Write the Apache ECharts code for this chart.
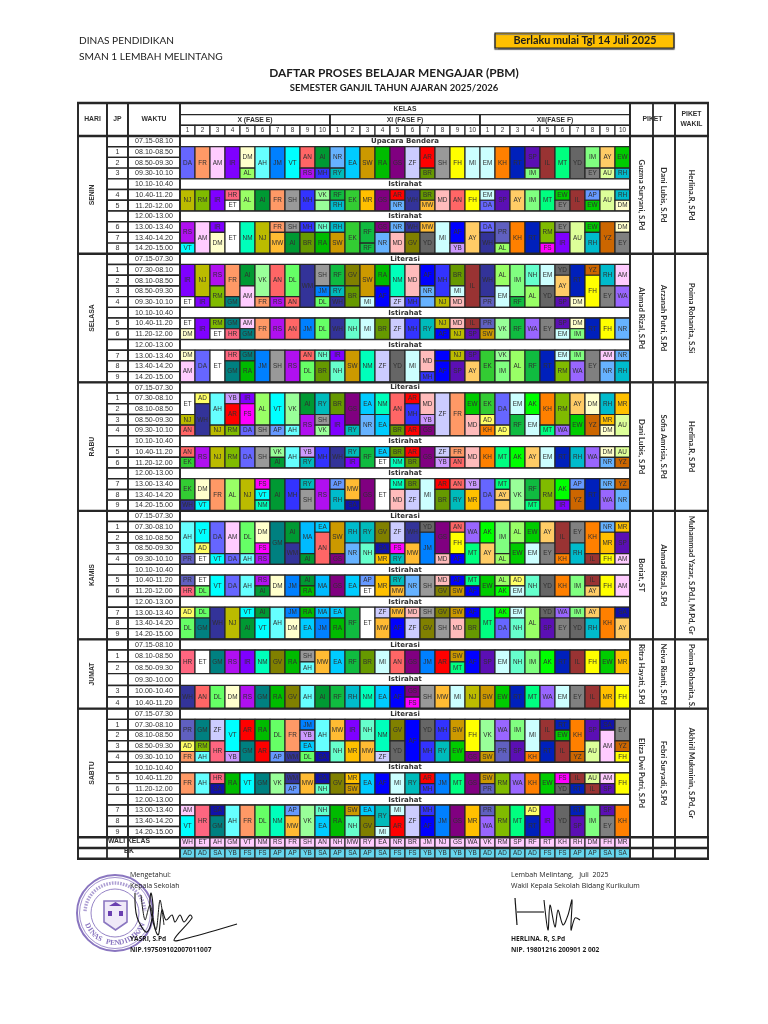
<!DOCTYPE html>
<html><head><meta charset="utf-8">
<style>html,body{margin:0;padding:0;background:#fff}#c{width:768px;height:1024px}</style>
<script src="https://cdn.jsdelivr.net/npm/echarts@6/dist/echarts.min.js"></script>
</head><body><div id="c"></div>
<script>
const days = ["SENIN","SELASA","RABU","KAMIS","JUMAT","SABTU"];
const classNumbers = ["1","2","3","4","5","6","7","8","9","10"];
const phases = ["X (FASE E)","XI (FASE F)","XII(FASE F)"];
const jpSix = ["","1","2","3","4","","5","6","","7","8","9"];
const jpSenin = ["","1","2","3","","4","5","","6","7","8"];
const jpJumat = ["","1","2","","3","4"];
const waktuSenin = ["07.15-08.10","08.10-08.50","08.50-09.30","09.30-10.10","10.10-10.40","10.40-11.20","11.20-12.00","12.00-13.00","13.00-13.40","13.40-14.20","14.20-15.00"];
const waktuFull = ["07.15-07.30","07.30-08.10","08.10-08.50","08.50-09.30","09.30-10.10","10.10-10.40","10.40-11.20","11.20-12.00","12.00-13.00","13.00-13.40","13.40-14.20","14.20-15.00"];
const waktuJumat = ["07.15-08.10","08.10-08.50","08.50-09.30","09.30-10.00","10.00-10.40","10.40-11.20"];
const breaksSenin = ["Upacara Bendera","Istirahat","Istirahat"];
const breaksFull = ["Literasi","Istirahat","Istirahat"];
const breaksJumat = ["Literasi","Istirahat"];
const piket1 = ["Guzma Suryani, S.Pd","Ahmad Rizal, S.Pd","Dani Lubis, S.Pd","Boriat, ST","Ritra Hayati, S.Pd","Eliza Dwi Putri, S.Pd"];
const piket2 = ["Dani Lubis, S.Pd","Arzanah Putri, S.Pd","Sofia Amrisia, S.Pd","Ahmad Rizal, S.Pd","Neiva Rianti, S.Pd","Febri Suryadi, S.Pd"];
const piketWakil = ["Herlina.R, S.Pd","Poima Rohanita, S.Si","Herlina.R, S.Pd","Muhammad Yazar, S.Pd.I, M.Pd, Gr","Poima Rohanita, S.Si","Akhiril Mukminin, S.Pd, Gr"];

// One string per class: teacher code + number of lesson periods
const seninA = ["DA3","FR3","AM3","IR3","DM2 AL1","AH3","JM3","VT3","AN2 RS1","AI2 MH1","NR2 RY1","EA3","SW3","RA3","GS3","ZF3","AR2 BR1","SH3","FH3","MI3","EM3","KH3","RT3","SP2 IM1","IL3","MT3","YD3","IM2 EY1","AY2 AU1","EW2 RH1"];
const seninB = ["NJ2","RM2","IR2","HR1 ET1","AL2","AI2","FR2","SH2","MH2","VK1 _VK1","RF1 RH1","EK2","MR2","GS2","AR1 NR1","WH2","BR1 MW1","MD2","AN2","FH2","EM1 DA1","SP2","AY2","IM2","MT2","EW1 EY1","IL2","AP1 EW1","AU2","RH1 DM1"];
const seninC = ["RS2 VT1","AM3","IR1 DM2","ET3","NM3","NJ3","FR1 MW2","SH1 AI2","MH1 BR2","NH1 RA2","RH1 SW2","EK3","RF2 RF1","GS1 NR2","NR1 MD2","WH1 GV2","MW1 YD2","MI3","AF2 YB1","AY3","DA1 WH2","PR2 AL1","KH3","RT3","RM2 FS1","EY1 IR2","AU3","EW1 RH2","YZ3","DM1 EY2"];
const selasaA = ["IR3 ET1","NJ3 IR1","RS2 RM2","FR3 GM1","AI2 AM2","VK3 FR1","AN3 RS1","DL3 AN1","WM4","SH2 JM1 DL1","RF2 RY1 WH1","GV2 BR2","SW3 MI1","RA2 AF2","NM3 ZF1","MD3 MH1","AF2 NR1 _NR1","MH3 NJ1","BR2 MI1 MD1","IL4","WH3 PR1","AL2 EM2","IM3 RF1","NH2 AL2","EM2 YD2","YD1 AY2 SP1","RT3 DM1","YZ1 FH3","RH2 EY2","AM2 WA2"];
const selasaB = ["ET1 DM1","IR2","RM1 ET1","GM1 HR1","AM1 GM1","FR2","RS2","AN2","JM2","DL2","WH2","NH2","MI2","BR2","ZF2","MH2","RY2","NJ1 AF1","MD1 NJ1","IL1 SP1","PR1 SW1","VK2","RF2","WA2","EY2","SP1 EM1","DM1 IM1","RT2","FH2","NR2"];
const selasaC = ["DM1 AM2","DA3","ET3","HR1 GM2","GM1 RA2","JM3","SH3","RS3","AN1 DL2","NH1 BR2","IR1 NH2","SW3","NM3","ZF3","YD3","MI3","MD2 MH1","_AF1 AF2","NJ1 SP2","SP1 AY2","EK3","VK1 IM2","AL3","RF3","RT3","EM1 RM2","IM1 WA2","EY3","AM1 NR2","NR1 RH2"];
const rabuA = ["ET2 NJ1 AN1","AD1 WH3","AH3 NJ1","YB1 AR2 RM1","IR1 FS2 DA1","AL3 SH1","VT3 AP1","VK3 AH1","AI2 RS2","RY2 SH1 VK1","BR2 IR2","GS3 RY1","EA2 NR2","NM2 EA2","AN3 BR1","AR1 MH2 AR1","MD2 YB1 GS1","ZF4","FR4","EW2 MD2","EK2 AD1 KH1","DA3 AD1","EM2 RF2","AK2 EM2","KH3 MT1","RM3 WA1","AY2 EW2","DM2 YZ2","RH2 MR1 DM1","MR2 AU2"];
const rabuB = ["AN1 EK1","RS2","NJ2","RM2","DA2","SH2","VK1 AI1","AH2","YB1 RY1","MH2","WH2","RY1 IR1","RF2","EA1 ET1","BR1 NM1","AR1 BR1","GS2","ZF1 YB1","FR1 AN1","MD2","KH2","MT2","AK2","AY2","EM2","RT2","RH2","WA2","DM1 NR1","AU1 YZ1"];
const rabuC = ["EK2 WH1","DM2 VT1","FR3","AL3","NJ3","FS1 VT1 NM1","AI3","MH3","RY1 SH2","RS3","AP1 RH2","MW2 SA1","GS3","ET3","NM1 MD2","BR1 ZF2","MI3","AR1 BR2","AN1 RY2","YB1 MR2","DA3","MT1 AY1 _AY1","VK3","RF2 MT1","RM3","AK2 IR1","AP1 YZ2","RT3","NR1 WA2","YZ1 NR2"];
const kamisA = ["AH3 PR1","VT2 AD1 ET1","DA3 VT1","AM3 DA1","DL3 AH1","DM2 FS1 RS1","GM4","AI2 WM2","MA3 AI1","EA1 AN3","SW3 GS1","RH2 NR2","RY2 NH2","GV2 SA1 MR1","ZF2 FS1 RY1","WH2 MW2","YD1 JM3","GS3 MD1","AN1 FH2 AF1","WA2 MT2","AK2 AY2","IM3 AL1","AL2 EW2","EW2 EM2","AY2 EY2","IL3 KH1","EY2 RH2","KH3 IL1","NR1 MR2 FH1","MR1 SP2 AM1"];
const kamisB = ["PR1 HR1","ET1 DL1","VT2","DA2","AH2","RS1 AI1","DM2","JM2","AI1 RA1","MA2","GS2","EA2","AP1 ET1","MR2","RY1 MW1","NR2","SH2","MD1 GV1","AF1 SW1","MT1 AF1","EW2","AL1 AK1","AD1 EM1","NH2","YD2","KH2","IM2","IL1 AY1","FH2","AM2"];
const kamisC = ["AD1 DL2","DL1 GM2","WH3","NJ3","VT1 AI2","AI1 VT2","AH3","JM1 DM2","RA1 EA2","MA1 JM2","EA1 RA2","RF3","ET3","ZF1 MW2","MW1 AF2","MD1 ZF2","SH1 GV2","GV1 SH2","SW1 MD2","AF1 BR2","MT3","AK1 DA2","EM1 NH2","AL3","YD1 SP2","WA1 EY2","IM1 YD2","AY1 RH2","KH3","SA1 AY2"];
const jumatA = ["HR2","ET2","GM2","RS2","IR2","NM2","GV2","RA2","SH1 AH1","MW2","EA2","RF2","BR2","MI2","AN2","GS2","JM2","AR2","SW1 MT1","AF2","SP2","EM2","NH2","IM2","AK2","RT2","IL2","FH2","EW2","MR2"];
const jumatB = ["WH2","AN2","DL2","DM2","RS2","GM2","RA2","GV2","AH2","AI2","RF2","RH2","NM2","EA2","AF2","GS1 FS1","SH2","MW2","MI2","NJ2","SW2","EW2","RT2","MT2","WA2","EM2","EY2","IL2","MR2","FH2"];
const sabtuA = ["PR2 AD1 FR1","GM2 RM1 AH1","ZF2 HR2","VT3 YB1","AR2 GM2","RA2 AR2","DL3 AP1","FR3 WM1","JM1 YB1 EA1 DL1","AH3 SA1","MW2 NH2","IR2 MR2","NH2 MW2","NM3 ZF1","GV2 YD2","AF4","YD2 MH2","MH2 RY2","SW2 EW2","FH3 GS1","VK3 SW1","WA2 PR2","IM2 SP2","MI3 KH1","IL2 RT2","RT1 EW1 IL2","KH3 YZ1","SP2 AU2","SA1 AM3","EY2 YZ1 FH1"];
const sabtuB = ["FR2","AH2","HR1 SA1","RA2","VT2","GM2","VK2","WM1 AP1","MW2","SA1 NH1","GV2","MR1 SW1","EA2","AF2","MI2","RY2","AR1 MH1","JM2","MT2","GS2","SW1 PR1","RM2","WA2","KH2","EW2","FS1 YD1","IL1 RT1","AU1 IL1","AM1 SP1","FH2"];
const sabtuC = ["AM1 VT2","HR3","SA1 GM2","AH3","FR3","DL3","NM3","AP1 MW2","VK3","NH1 EA2","RA3","SW1 NH2","EA1 GV2","RY2 MI1","MI1 AR2","ZF3","MH1 AF2","JM3","GS3","MR3","PR1 WA2","RM3","MT3","AD1 RT2","IR3","YD3","RT1 SP2","IM3","SP1 EY2","KH3"];
const waliKelas = ["WH","ET","AH","GM","VT","NM","RS","FR","SH","AN","NH","MW","RY","EA","NR","BR","JM","NJ","GS","WA","VK","RM","SP","RF","RT","KH","RH","DM","FH","MR"];
const bk = ["AD","AD","SA","YB","FS","FS","AP","AP","YB","SA","AP","SA","AP","SA","FS","FS","YB","YB","YB","YB","AD","AD","AD","AD","FS","FS","AP","AP","SA","SA"];
const teacherColors = {DA:"#6666FF",FR:"#FF9966",AM:"#FFCCFF",IR:"#7F00FF",DM:"#FFFFCC",AL:"#99FF66",AH:"#66FFFF",JM:"#0080FF",VT:"#00FFFF",AN:"#FF6666",RS:"#B010F0",AI:"#009933",MH:"#3333FF",NR:"#66B2FF",RY:"#00BBBB",EA:"#00CCFF",SW:"#CC9900",RA:"#00BB00",GS:"#800080",ZF:"#CCCCFF",AR:"#FF0000",BR:"#669900",SH:"#999999",FH:"#FFFF00",MI:"#CCFFFF",EM:"#CCFFFF",KH:"#FF8000",RT:"#0020BB",SP:"#5B0FB4",IM:"#80FF80",IL:"#993333",MT:"#00FF80",YD:"#666666",EY:"#808080",AY:"#FFCC66",AU:"#DDFF99",EW:"#00CC00",RH:"#00BBCC",NJ:"#BBBB00",RM:"#80BB00",HR:"#FF6680",ET:"#FFFFFF",VK:"#99FF99",NM:"#00FFBB",FS:"#FF00FF",WH:"#333399",PR:"#6060C0",MW:"#FFBB33",AF:"#0000FF",MD:"#FFBBBB",EK:"#33CC33",RF:"#10BB40",GV:"#808000",NH:"#66FFCC",DL:"#66FF66",GM:"#008080",WA:"#9966FF",AK:"#00FF00",YZ:"#CC6600",MR:"#FFC000",AP:"#6699FF",AD:"#FFFF66",YB:"#CC99FF",WM:"#333399",MA:"#00BBFF",SA:"#1111AA"};

const dayTables = [
 {jp:jpSenin,waktu:waktuSenin,breaks:breaksSenin,segs:[seninA,seninB,seninC]},
 {jp:jpSix,waktu:waktuFull,breaks:breaksFull,segs:[selasaA,selasaB,selasaC]},
 {jp:jpSix,waktu:waktuFull,breaks:breaksFull,segs:[rabuA,rabuB,rabuC]},
 {jp:jpSix,waktu:waktuFull,breaks:breaksFull,segs:[kamisA,kamisB,kamisC]},
 {jp:jpJumat,waktu:waktuJumat,breaks:breaksJumat,segs:[jumatA,jumatB]},
 {jp:jpSix,waktu:waktuFull,breaks:breaksFull,segs:[sabtuA,sabtuB,sabtuC]}
];

// ---- layout (page pixels) ----
const U = px => (px - 180) / 15;          // page x -> class-column units
const edges = {hari:78, jp:107, waktu:128, kelas:180, kelasEnd:630, p1:653, p2:675, end:708};
const jumatHeights = [10.7,11.8,11.8,11.8,11.6,11.6];
const pitch = 10.71, rowsTop = 136;
const line = "#262626", inkCell = "#303030", ink = "#303030";
const fSmall = "6.4px 'Liberation Sans'", fHead = "bold 6.8px 'Liberation Sans'", fTime = "7.1px 'Liberation Sans'";
const fBreak = "bold 7px 'DejaVu Sans'", fName = "bold 7.8px Lato";

const boxes = [];
function box(x0,x1,y0,y1,o){boxes.push(Object.assign({x0:U(x0),x1:U(x1),y0,y1,fill:"#fff",stroke:line,lw:1.4,font:fHead,color:ink,rot:0,text:""},o||{}));}
function cell(col,y0,y1,text,fill){boxes.push({x0:col,x1:col+1,y0,y1,fill,stroke:line,lw:1.15,font:fSmall,color:inkCell,rot:0,text});}

// header
box(edges.hari,edges.jp,103,rowsTop,{text:"HARI"});
box(edges.jp,edges.waktu,103,rowsTop,{text:"JP"});
box(edges.waktu,edges.kelas,103,rowsTop,{text:"WAKTU"});
box(edges.kelas,edges.kelasEnd,103,114.6,{text:"KELAS"});
phases.forEach((p,i)=>{
  box(180+150*i,330+150*i,114.6,125.3,{text:p});
  classNumbers.forEach((n,j)=>cell(10*i+j,125.3,rowsTop,n,"#fff"));
});
box(edges.kelasEnd,edges.p2,103,rowsTop,{text:"PIKET"});
box(edges.p2,edges.end,103,rowsTop,{text:"PIKET\nWAKIL",lineHeight:10});

// day blocks
let y = rowsTop;
const dayEdges = [y];
dayTables.forEach((d,di)=>{
  const top = y;
  let segIdx = 0, brkIdx = 0, r = 0;
  const h = i => di===4 ? jumatHeights[i] : pitch;
  while (r < d.jp.length) {
    if (d.jp[r] === "") {
      box(edges.jp,edges.waktu,y,y+h(r));
      box(edges.waktu,edges.kelas,y,y+h(r),{text:d.waktu[r],font:fTime});
      box(edges.kelas,edges.kelasEnd,y,y+h(r),{text:d.breaks[brkIdx++],font:fBreak});
      y += h(r); r++;
    } else {
      const start = r, startY = y;
      while (r < d.jp.length && d.jp[r] !== "") {
        box(edges.jp,edges.waktu,y,y+h(r),{text:d.jp[r],font:fTime});
        box(edges.waktu,edges.kelas,y,y+h(r),{text:d.waktu[r],font:fTime});
        y += h(r); r++;
      }
      const seg = d.segs[segIdx++];
      seg.forEach((s,ci)=>{
        let cr = start;
        s.split(" ").forEach(tok=>{
          const m = tok.match(/^(_?)([A-Z]+)(\d)$/);
          const n = +m[3];
          let ya = startY; for(let k=start;k<cr;k++) ya += h(k);
          let yb = ya; for(let k=cr;k<cr+n;k++) yb += h(k);
          cell(ci,ya,yb,m[1]?"":m[2],teacherColors[m[2]]);
          cr += n;
        });
      });
    }
  }
  box(edges.hari,edges.jp,top,y,{text:days[di],rot:Math.PI/2});
  box(edges.kelasEnd,edges.p1,top,y,{text:piket1[di],rot:-Math.PI/2,font:fName});
  box(edges.p1,edges.p2,top,y,{text:piket2[di],rot:-Math.PI/2,font:fName});
  box(edges.p2,edges.end,top,y,{text:piketWakil[di],rot:-Math.PI/2,font:fName,clip:true,dy:di===4?5:0});
  dayEdges.push(y);
});
// wali kelas & BK rows
const wy0 = y, wy1 = y + 10.8, wy2 = wy1 + 10.8;
box(edges.hari,edges.kelas,wy0,wy1,{text:"WALI KELAS",dy:-1});
box(edges.hari,edges.kelas,wy1,wy2,{text:"BK",dy:-2});
waliKelas.forEach((t,i)=>cell(i,wy0,wy1,t,"#FFCCFF"));
bk.forEach((t,i)=>cell(i,wy1,wy2,t,"#66D6EE"));
[[edges.kelasEnd,edges.p1],[edges.p1,edges.p2],[edges.p2,edges.end]].forEach(([a,b])=>{box(a,b,wy0,wy1);box(a,b,wy1,wy2);});
// heavy rules
const rule=(x0,x1,y0,y1)=>boxes.push({x0:U(x0),x1:U(x1),y0,y1,fill:line,stroke:null,lw:0,text:""});
[103,...dayEdges,wy1,wy2].forEach(v=>rule(edges.hari-1,edges.end+1,v-1.2,v+1.2));
[edges.hari,edges.jp,edges.waktu,edges.kelas,edges.kelasEnd,edges.p1,edges.p2,edges.end].forEach(v=>rule(v-0.9,v+0.9,103,wy2));
[330,480].forEach(v=>rule(v-0.7,v+0.7,114.6,rowsTop));

function renderItem(params, api){
  const b = boxes[params.dataIndex];
  const a = api.coord([b.x0,b.y0]), c = api.coord([b.x1,b.y1]);
  const kids = [{type:"rect",silent:true,shape:{x:a[0],y:a[1],width:c[0]-a[0],height:c[1]-a[1]},style:{fill:b.fill,stroke:b.stroke,lineWidth:b.lw}}];
  if (b.text) kids.push({type:"text",silent:true,x:(a[0]+c[0])/2,y:(a[1]+c[1])/2+(b.dy||0),rotation:b.rot,z2:5,
    style:{text:b.text,fill:b.color,font:b.font,align:"center",verticalAlign:"middle",lineHeight:b.lineHeight}});
  const g = {type:"group",children:kids};
  if (b.clip) g.clipPath = {type:"rect",shape:{x:a[0],y:a[1],width:c[0]-a[0],height:c[1]-a[1]}};
  return g;
}

// ---- page furniture ----
const G = [];
const T=(text,x,y,font,o)=>G.push(Object.assign({type:"text",x,y,z:20,silent:true,style:Object.assign({text,font,fill:"#1c1c1c",align:"left",verticalAlign:"middle"},o||{})}));
T("DINAS PENDIDIKAN",79,41,"10.1px Lato");
T("SMAN 1 LEMBAH MELINTANG",79,57,"10.2px Lato");
G.push({type:"rect",z:19,shape:{x:495,y:33,width:179,height:15},style:{fill:"#FFC000",stroke:"#222",lineWidth:1.2,shadowColor:"#777",shadowOffsetY:1.5,shadowBlur:1}});
T("Berlaku mulai Tgl 14 Juli 2025",585,40.8,"bold 10.8px Lato",{align:"center"});
T("DAFTAR PROSES BELAJAR MENGAJAR (PBM)",394,73,"bold 11.9px Lato",{align:"center"});
T("SEMESTER GANJIL TAHUN AJARAN 2025/2026",394,88,"bold 9.5px Lato",{align:"center"});
// stamp
const purple="#8a76c0";
G.push({type:"circle",z:18,shape:{cx:115,cy:913,r:38},style:{fill:"none",stroke:purple,lineWidth:2}});
G.push({type:"circle",z:18,shape:{cx:115,cy:913,r:35.5},style:{fill:"none",stroke:purple,lineWidth:0.8}});
G.push({type:"circle",z:18,shape:{cx:115,cy:913,r:24},style:{fill:"none",stroke:purple,lineWidth:0.9}});
G.push({type:"arc",z:18,shape:{cx:115,cy:913,r:30,startAngle:Math.PI*1.02,endAngle:Math.PI*1.98},style:{fill:"none",stroke:purple,lineWidth:3.4,lineDash:[1.6,1.2],opacity:.7}});
G.push({type:"polygon",z:18,shape:{points:[[104,901],[127,901],[127,922],[115.5,930],[104,922]]},style:{fill:"#efe9f8",stroke:purple,lineWidth:1.6}});
G.push({type:"rect",z:18,shape:{x:108,y:911,width:4,height:5},style:{fill:"#6a3fb0"}});
G.push({type:"rect",z:18,shape:{x:119,y:911,width:4,height:5},style:{fill:"#6a3fb0"}});
G.push({type:"polygon",z:18,shape:{points:[[109,906],[115.5,902],[122,906]]},style:{fill:"#6a3fb0"}});
const arcText="DINAS PENDIDIKAN";
[...arcText].forEach((ch,i)=>{
  const ang=Math.PI*(0.86-i*0.72/(arcText.length-1));
  G.push({type:"text",z:18,x:115+30*Math.cos(ang),y:913+30*Math.sin(ang),rotation:-(ang-Math.PI/2),silent:true,
    style:{text:ch,font:"bold 7.5px 'Liberation Serif'",fill:purple,align:"center",verticalAlign:"middle"}});
});
T("Mengetahui:",130,875,"7px 'Open Sans'");
T("Kepala Sekolah",130,886,"7px 'Open Sans'");
T("YASRI, S.Pd",130,939,"bold 6.6px 'Open Sans'");
T("NIP.197509102007011007",130,950,"bold 6.6px 'Open Sans'");
T("Lembah Melintang,   Juli  2025",511,875,"7px 'Open Sans'");
T("Wakil Kepala Sekolah Bidang Kurikulum",511,886,"7px 'Open Sans'");
T("HERLINA. R, S.Pd",511,939,"bold 6.6px 'Open Sans'");
T("NIP. 19801216 200901 2 002",511,950,"bold 6.6px 'Open Sans'");
// signatures
const sig=(pts,lw,smooth)=>G.push({type:"polyline",z:21,silent:true,shape:{points:pts,smooth:smooth},style:{fill:"none",stroke:"#151515",lineWidth:lw}});
sig([[135,893],[137,917],[147,932],[153,910],[151,893],[150,907],[158,935],[162,910],[166,920],[172,915],[175,922],[180,915],[184,922],[190,915],[192,918],[174,940],[188,938],[237,924]],1.1,0.35);
sig([[141,895],[145,920],[150,905],[156,930],[160,900],[164,925]],1,0.3);
sig([[515,898],[517,925]],1.2,0);
sig([[517,912],[544,912]],1.1,0);
sig([[544,900],[548,930],[550,905],[555,927],[558,910],[563,925],[568,915],[572,900],[571,930],[575,918],[580,920]],1.1,0.3);

const chart = echarts.init(document.getElementById("c"),null,{renderer:"canvas",width:768,height:1024});
chart.setOption({
  animation:false,
  grid:{left:0,right:0,top:0,bottom:0,containLabel:false},
  xAxis:{type:"value",min:U(0),max:U(768),show:false},
  yAxis:{type:"value",min:0,max:1024,inverse:true,show:false},
  series:[{type:"custom",silent:true,clip:false,coordinateSystem:"cartesian2d",renderItem,
    data:boxes.map(b=>[b.x0,b.y0]),encode:{x:0,y:1}}],
  graphic:{elements:G}
});
</script></body></html>
